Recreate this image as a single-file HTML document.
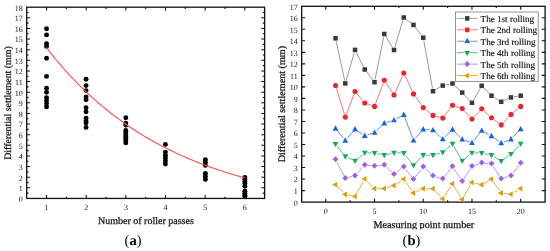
<!DOCTYPE html>
<html><head><meta charset="utf-8"><title>Differential settlement charts</title>
<style>html,body{margin:0;padding:0;background:#fff;width:550px;height:251px;overflow:hidden}svg{display:block;filter:blur(0.3px)}</style>
</head><body>
<svg width="550" height="251" viewBox="0 0 550 251" text-rendering="geometricPrecision"><rect x="0" y="0" width="550" height="251" fill="#fff"/>
<g fill="#000"><circle cx="46.55" cy="28.7" r="2.45"/><circle cx="46.55" cy="34.9" r="2.45"/><circle cx="46.55" cy="43.8" r="2.45"/><circle cx="46.55" cy="46.4" r="2.45"/><circle cx="46.55" cy="58.3" r="2.45"/><circle cx="46.55" cy="76.4" r="2.45"/><circle cx="46.55" cy="88.2" r="2.45"/><circle cx="46.55" cy="92.3" r="2.45"/><circle cx="46.55" cy="97.8" r="2.45"/><circle cx="46.55" cy="100.6" r="2.45"/><circle cx="46.55" cy="103.6" r="2.45"/><circle cx="46.55" cy="106.9" r="2.45"/><circle cx="86.05" cy="79.2" r="2.45"/><circle cx="86.05" cy="85.6" r="2.45"/><circle cx="86.05" cy="90.6" r="2.45"/><circle cx="86.05" cy="97.0" r="2.45"/><circle cx="86.05" cy="99.8" r="2.45"/><circle cx="86.05" cy="107.7" r="2.45"/><circle cx="86.05" cy="111.7" r="2.45"/><circle cx="86.05" cy="118.2" r="2.45"/><circle cx="86.05" cy="121.0" r="2.45"/><circle cx="86.05" cy="123.0" r="2.45"/><circle cx="86.05" cy="127.4" r="2.45"/><circle cx="125.8" cy="117.8" r="2.45"/><circle cx="125.8" cy="123.1" r="2.45"/><circle cx="125.8" cy="125.3" r="2.45"/><circle cx="125.8" cy="130.4" r="2.45"/><circle cx="125.8" cy="132.5" r="2.45"/><circle cx="125.8" cy="134.5" r="2.45"/><circle cx="125.8" cy="136.5" r="2.45"/><circle cx="125.8" cy="138.5" r="2.45"/><circle cx="125.8" cy="140.5" r="2.45"/><circle cx="125.8" cy="142.9" r="2.45"/><circle cx="165.4" cy="144.4" r="2.45"/><circle cx="165.4" cy="152.1" r="2.45"/><circle cx="165.4" cy="155.2" r="2.45"/><circle cx="165.4" cy="158.0" r="2.45"/><circle cx="165.4" cy="161.0" r="2.45"/><circle cx="165.4" cy="164.0" r="2.45"/><circle cx="205.4" cy="159.7" r="2.45"/><circle cx="205.4" cy="162.5" r="2.45"/><circle cx="205.4" cy="165.4" r="2.45"/><circle cx="205.4" cy="173.5" r="2.45"/><circle cx="205.4" cy="176.5" r="2.45"/><circle cx="205.4" cy="179.4" r="2.45"/><circle cx="244.9" cy="177.5" r="2.45"/><circle cx="244.9" cy="179.5" r="2.45"/><circle cx="244.9" cy="181.5" r="2.45"/><circle cx="244.9" cy="183.5" r="2.45"/><circle cx="244.9" cy="186.2" r="2.45"/><circle cx="244.9" cy="191.2" r="2.45"/><circle cx="244.9" cy="193.2" r="2.45"/><circle cx="244.9" cy="195.2" r="2.45"/><circle cx="244.9" cy="196.2" r="2.45"/></g>
<polyline points="46.30,47.45 48.81,50.68 51.32,53.84 53.83,56.94 56.34,59.99 58.85,62.97 61.36,65.89 63.87,68.76 66.38,71.57 68.89,74.32 71.40,77.03 73.91,79.68 76.42,82.27 78.93,84.82 81.44,87.32 83.95,89.76 86.46,92.16 88.97,94.52 91.48,96.82 93.99,99.09 96.50,101.30 99.01,103.48 101.52,105.61 104.03,107.70 106.54,109.75 109.05,111.76 111.56,113.73 114.07,115.66 116.58,117.56 119.09,119.41 121.60,121.23 124.11,123.02 126.62,124.77 129.13,126.48 131.64,128.17 134.15,129.82 136.66,131.43 139.17,133.02 141.68,134.57 144.19,136.10 146.71,137.59 149.22,139.06 151.73,140.49 154.24,141.90 156.75,143.28 159.26,144.64 161.77,145.97 164.28,147.27 166.79,148.54 169.30,149.80 171.81,151.02 174.32,152.23 176.83,153.40 179.34,154.56 181.85,155.69 184.36,156.81 186.87,157.90 189.38,158.96 191.89,160.01 194.40,161.04 196.91,162.05 199.42,163.03 201.93,164.00 204.44,164.95 206.95,165.88 209.46,166.79 211.97,167.69 214.48,168.57 216.99,169.43 219.50,170.27 222.01,171.10 224.52,171.91 227.03,172.70 229.54,173.48 232.05,174.25 234.56,174.99 237.07,175.73 239.58,176.45 242.09,177.15 244.60,177.85" fill="none" stroke="#ff4d4d" stroke-width="1.1"/>
<rect x="26.7" y="7.2" width="237.90" height="191.25" fill="none" stroke="#111" stroke-width="1.3"/>
<path d="M26.70 193.14h1.8M264.60 193.14h-1.8M26.70 187.82h3.4M264.60 187.82h-3.4M26.70 182.51h1.8M264.60 182.51h-1.8M26.70 177.20h3.4M264.60 177.20h-3.4M26.70 171.89h1.8M264.60 171.89h-1.8M26.70 166.57h3.4M264.60 166.57h-3.4M26.70 161.26h1.8M264.60 161.26h-1.8M26.70 155.95h3.4M264.60 155.95h-3.4M26.70 150.64h1.8M264.60 150.64h-1.8M26.70 145.32h3.4M264.60 145.32h-3.4M26.70 140.01h1.8M264.60 140.01h-1.8M26.70 134.70h3.4M264.60 134.70h-3.4M26.70 129.39h1.8M264.60 129.39h-1.8M26.70 124.07h3.4M264.60 124.07h-3.4M26.70 118.76h1.8M264.60 118.76h-1.8M26.70 113.45h3.4M264.60 113.45h-3.4M26.70 108.14h1.8M264.60 108.14h-1.8M26.70 102.82h3.4M264.60 102.82h-3.4M26.70 97.51h1.8M264.60 97.51h-1.8M26.70 92.20h3.4M264.60 92.20h-3.4M26.70 86.89h1.8M264.60 86.89h-1.8M26.70 81.57h3.4M264.60 81.57h-3.4M26.70 76.26h1.8M264.60 76.26h-1.8M26.70 70.95h3.4M264.60 70.95h-3.4M26.70 65.64h1.8M264.60 65.64h-1.8M26.70 60.32h3.4M264.60 60.32h-3.4M26.70 55.01h1.8M264.60 55.01h-1.8M26.70 49.70h3.4M264.60 49.70h-3.4M26.70 44.39h1.8M264.60 44.39h-1.8M26.70 39.07h3.4M264.60 39.07h-3.4M26.70 33.76h1.8M264.60 33.76h-1.8M26.70 28.45h3.4M264.60 28.45h-3.4M26.70 23.14h1.8M264.60 23.14h-1.8M26.70 17.82h3.4M264.60 17.82h-3.4M26.70 12.51h1.8M264.60 12.51h-1.8M46.60 198.45v-3.4M46.60 7.20v3.4M66.42 198.45v-1.8M66.42 7.20v1.8M86.24 198.45v-3.4M86.24 7.20v3.4M106.06 198.45v-1.8M106.06 7.20v1.8M125.88 198.45v-3.4M125.88 7.20v3.4M145.70 198.45v-1.8M145.70 7.20v1.8M165.52 198.45v-3.4M165.52 7.20v3.4M185.34 198.45v-1.8M185.34 7.20v1.8M205.16 198.45v-3.4M205.16 7.20v3.4M224.98 198.45v-1.8M224.98 7.20v1.8M244.80 198.45v-3.4M244.80 7.20v3.4" stroke="#111" stroke-width="1.1" fill="none"/>
<g font-family='"Liberation Serif", "Times New Roman", serif' font-size="8" fill="#1a1a1a"><text x="22.8" y="201.75" text-anchor="end">0</text><text x="22.8" y="191.12" text-anchor="end">1</text><text x="22.8" y="180.50" text-anchor="end">2</text><text x="22.8" y="169.88" text-anchor="end">3</text><text x="22.8" y="159.25" text-anchor="end">4</text><text x="22.8" y="148.62" text-anchor="end">5</text><text x="22.8" y="138.00" text-anchor="end">6</text><text x="22.8" y="127.37" text-anchor="end">7</text><text x="22.8" y="116.75" text-anchor="end">8</text><text x="22.8" y="106.12" text-anchor="end">9</text><text x="22.8" y="95.50" text-anchor="end">10</text><text x="22.8" y="84.87" text-anchor="end">11</text><text x="22.8" y="74.25" text-anchor="end">12</text><text x="22.8" y="63.62" text-anchor="end">13</text><text x="22.8" y="53.00" text-anchor="end">14</text><text x="22.8" y="42.37" text-anchor="end">15</text><text x="22.8" y="31.75" text-anchor="end">16</text><text x="22.8" y="21.12" text-anchor="end">17</text><text x="22.8" y="10.50" text-anchor="end">18</text><text x="46.60" y="209.9" text-anchor="middle">1</text><text x="86.24" y="209.9" text-anchor="middle">2</text><text x="125.88" y="209.9" text-anchor="middle">3</text><text x="165.52" y="209.9" text-anchor="middle">4</text><text x="205.16" y="209.9" text-anchor="middle">5</text><text x="244.80" y="209.9" text-anchor="middle">6</text></g>
<text x="145.9" y="223.9" text-anchor="middle" font-family='"Liberation Serif", "Times New Roman", serif' font-size="10" fill="#111" stroke="#111" stroke-width="0.25">Number of roller passes</text>
<text transform="translate(10.5 103.0) rotate(-90)" text-anchor="middle" textLength="113.6" lengthAdjust="spacingAndGlyphs" font-family='"Liberation Serif", "Times New Roman", serif' font-size="9.8" fill="#111" stroke="#111" stroke-width="0.25">Differential settlement (mm)</text>
<text x="133" y="244.6" text-anchor="middle" font-family='"Liberation Serif", "Times New Roman", serif' font-size="14.5" fill="#000">(<tspan font-weight="bold">a</tspan>)</text>
<rect x="301.7" y="6.3" width="243.40" height="195.80" fill="none" stroke="#111" stroke-width="1.3"/>
<path d="M301.70 190.58h3.4M545.10 190.58h-3.4M301.70 179.06h3.4M545.10 179.06h-3.4M301.70 167.54h3.4M545.10 167.54h-3.4M301.70 156.02h3.4M545.10 156.02h-3.4M301.70 144.50h3.4M545.10 144.50h-3.4M301.70 132.98h3.4M545.10 132.98h-3.4M301.70 121.46h3.4M545.10 121.46h-3.4M301.70 109.94h3.4M545.10 109.94h-3.4M301.70 98.42h3.4M545.10 98.42h-3.4M301.70 86.90h3.4M545.10 86.90h-3.4M301.70 75.38h3.4M545.10 75.38h-3.4M301.70 63.86h3.4M545.10 63.86h-3.4M301.70 52.34h3.4M545.10 52.34h-3.4M301.70 40.82h3.4M545.10 40.82h-3.4M301.70 29.30h3.4M545.10 29.30h-3.4M301.70 17.78h3.4M545.10 17.78h-3.4M325.80 202.10v-3.4M325.80 6.30v3.4M350.16 202.10v-1.8M350.16 6.30v1.8M374.52 202.10v-3.4M374.52 6.30v3.4M398.89 202.10v-1.8M398.89 6.30v1.8M423.25 202.10v-3.4M423.25 6.30v3.4M447.61 202.10v-1.8M447.61 6.30v1.8M471.98 202.10v-3.4M471.98 6.30v3.4M496.34 202.10v-1.8M496.34 6.30v1.8M520.70 202.10v-3.4M520.70 6.30v3.4" stroke="#111" stroke-width="1.1" fill="none"/>
<path d="M336.16 41.13L344.68 80.57M346.10 80.62L354.22 52.68M356.33 52.50L363.49 66.90M366.55 71.80L372.76 79.90M375.10 79.36L383.70 36.84M385.78 36.48L392.51 47.52M394.85 47.22L402.93 20.28M406.07 19.25L411.20 23.15M415.26 27.21L421.49 35.39M423.77 40.55L432.48 88.35M435.51 89.76L440.23 87.04M445.57 84.99L449.65 84.11M454.60 85.48L460.11 90.62M464.23 94.70L469.97 100.70M473.42 100.28L480.28 88.32M483.75 87.87L489.43 93.63M493.92 97.24L498.75 100.26M503.85 100.61L508.31 98.59M513.81 96.90L517.84 96.20" fill="none" stroke="#9a9a9a" stroke-width="1"/>
<rect x="333.30" y="36.05" width="4.5" height="4.5" fill="#383838"/><rect x="343.04" y="81.15" width="4.5" height="4.5" fill="#383838"/><rect x="352.79" y="47.65" width="4.5" height="4.5" fill="#383838"/><rect x="362.53" y="67.25" width="4.5" height="4.5" fill="#383838"/><rect x="372.27" y="79.95" width="4.5" height="4.5" fill="#383838"/><rect x="382.02" y="31.75" width="4.5" height="4.5" fill="#383838"/><rect x="391.76" y="47.75" width="4.5" height="4.5" fill="#383838"/><rect x="401.51" y="15.25" width="4.5" height="4.5" fill="#383838"/><rect x="411.25" y="22.65" width="4.5" height="4.5" fill="#383838"/><rect x="421.00" y="35.45" width="4.5" height="4.5" fill="#383838"/><rect x="430.75" y="88.95" width="4.5" height="4.5" fill="#383838"/><rect x="440.49" y="83.35" width="4.5" height="4.5" fill="#383838"/><rect x="450.24" y="81.25" width="4.5" height="4.5" fill="#383838"/><rect x="459.98" y="90.35" width="4.5" height="4.5" fill="#383838"/><rect x="469.73" y="100.55" width="4.5" height="4.5" fill="#383838"/><rect x="479.47" y="83.55" width="4.5" height="4.5" fill="#383838"/><rect x="489.22" y="93.45" width="4.5" height="4.5" fill="#383838"/><rect x="498.96" y="99.55" width="4.5" height="4.5" fill="#383838"/><rect x="508.70" y="95.15" width="4.5" height="4.5" fill="#383838"/><rect x="518.45" y="93.45" width="4.5" height="4.5" fill="#383838"/>
<path d="M336.40 88.27L344.44 114.33M346.32 114.39L354.00 94.21M356.91 93.71L362.91 100.79M367.52 103.96L371.79 105.44M375.54 103.68L383.26 83.02M385.88 82.71L392.41 92.49M395.20 92.25L402.58 75.75M404.99 75.73L412.27 91.27M415.19 96.26L421.57 105.24M425.51 109.41L430.73 113.59M435.79 116.17L439.95 117.33M444.50 115.79L450.73 107.61M455.23 106.23L459.48 107.67M464.21 110.72L469.99 116.88M473.98 116.90L479.72 110.90M483.85 110.77L489.33 115.83M493.81 119.51L498.87 123.19M503.18 122.77L508.98 116.53M513.20 112.56L518.46 108.24" fill="none" stroke="#f47a7a" stroke-width="1"/>
<circle cx="335.55" cy="85.50" r="2.55" fill="#f0232d"/><circle cx="345.29" cy="117.10" r="2.55" fill="#f0232d"/><circle cx="355.04" cy="91.50" r="2.55" fill="#f0232d"/><circle cx="364.78" cy="103.00" r="2.55" fill="#f0232d"/><circle cx="374.52" cy="106.40" r="2.55" fill="#f0232d"/><circle cx="384.27" cy="80.30" r="2.55" fill="#f0232d"/><circle cx="394.01" cy="94.90" r="2.55" fill="#f0232d"/><circle cx="403.76" cy="73.10" r="2.55" fill="#f0232d"/><circle cx="413.50" cy="93.90" r="2.55" fill="#f0232d"/><circle cx="423.25" cy="107.60" r="2.55" fill="#f0232d"/><circle cx="433.00" cy="115.40" r="2.55" fill="#f0232d"/><circle cx="442.74" cy="118.10" r="2.55" fill="#f0232d"/><circle cx="452.49" cy="105.30" r="2.55" fill="#f0232d"/><circle cx="462.23" cy="108.60" r="2.55" fill="#f0232d"/><circle cx="471.98" cy="119.00" r="2.55" fill="#f0232d"/><circle cx="481.72" cy="108.80" r="2.55" fill="#f0232d"/><circle cx="491.47" cy="117.80" r="2.55" fill="#f0232d"/><circle cx="501.21" cy="124.90" r="2.55" fill="#f0232d"/><circle cx="510.95" cy="114.40" r="2.55" fill="#f0232d"/><circle cx="520.70" cy="106.40" r="2.55" fill="#f0232d"/>
<path d="M337.37 130.75L343.46 138.25M347.19 138.31L353.13 131.49M357.45 130.91L362.37 134.19M367.54 134.90L371.77 133.50M376.62 130.60L382.17 125.30M387.03 122.40L391.26 121.00M396.55 118.69L401.22 116.11M404.79 117.41L412.48 137.69M415.41 138.21L421.35 131.39M426.14 129.47L430.11 129.83M435.13 132.07L440.61 137.13M444.81 137.06L450.42 131.54M454.52 131.57L460.20 137.33M464.96 140.38L469.25 141.92M473.78 140.63L479.92 132.87M484.26 132.01L488.93 134.59M493.82 137.69L498.85 141.31M503.91 141.95L508.25 140.25M512.97 137.11L518.69 131.19" fill="none" stroke="#5c95f0" stroke-width="1"/>
<path d="M335.55 125.30L338.44 130.70L332.65 130.70Z" fill="#1664e6"/><path d="M345.29 137.30L348.19 142.70L342.39 142.70Z" fill="#1664e6"/><path d="M355.04 126.10L357.94 131.50L352.14 131.50Z" fill="#1664e6"/><path d="M364.78 132.60L367.68 138.00L361.88 138.00Z" fill="#1664e6"/><path d="M374.52 129.40L377.42 134.80L371.62 134.80Z" fill="#1664e6"/><path d="M384.27 120.10L387.17 125.50L381.37 125.50Z" fill="#1664e6"/><path d="M394.01 116.90L396.91 122.30L391.12 122.30Z" fill="#1664e6"/><path d="M403.76 111.50L406.66 116.90L400.86 116.90Z" fill="#1664e6"/><path d="M413.50 137.20L416.40 142.60L410.61 142.60Z" fill="#1664e6"/><path d="M423.25 126.00L426.15 131.40L420.35 131.40Z" fill="#1664e6"/><path d="M433.00 126.90L435.89 132.30L430.10 132.30Z" fill="#1664e6"/><path d="M442.74 135.90L445.64 141.30L439.84 141.30Z" fill="#1664e6"/><path d="M452.49 126.30L455.38 131.70L449.59 131.70Z" fill="#1664e6"/><path d="M462.23 136.20L465.13 141.60L459.33 141.60Z" fill="#1664e6"/><path d="M471.98 139.70L474.88 145.10L469.08 145.10Z" fill="#1664e6"/><path d="M481.72 127.40L484.62 132.80L478.82 132.80Z" fill="#1664e6"/><path d="M491.47 132.80L494.37 138.20L488.57 138.20Z" fill="#1664e6"/><path d="M501.21 139.80L504.11 145.20L498.31 145.20Z" fill="#1664e6"/><path d="M510.95 136.00L513.86 141.40L508.06 141.40Z" fill="#1664e6"/><path d="M520.70 125.90L523.60 131.30L517.80 131.30Z" fill="#1664e6"/>
<path d="M337.35 146.37L343.49 154.13M347.93 157.59L352.39 159.61M357.28 158.96L362.54 154.64M367.68 152.86L371.63 152.94M377.35 153.64L381.44 154.56M387.09 154.51L391.20 153.49M396.91 152.86L400.86 152.94M405.56 155.27L411.70 163.03M415.52 163.21L421.24 157.29M426.15 155.20L430.10 155.20M435.77 154.37L439.96 153.13M444.94 150.41L450.29 145.79M453.93 146.42L460.79 158.38M464.47 159.06L469.73 154.74M474.87 152.96L478.82 153.04M484.55 153.71L488.63 154.59M493.95 156.70L498.73 159.60M503.55 159.39L508.61 155.71M512.97 151.91L518.69 145.99" fill="none" stroke="#50c084" stroke-width="1"/>
<path d="M335.55 147.30L338.44 142.00L332.65 142.00Z" fill="#14aa5a"/><path d="M345.29 159.60L348.19 154.30L342.39 154.30Z" fill="#14aa5a"/><path d="M355.04 164.00L357.94 158.70L352.14 158.70Z" fill="#14aa5a"/><path d="M364.78 156.00L367.68 150.70L361.88 150.70Z" fill="#14aa5a"/><path d="M374.52 156.20L377.42 150.90L371.62 150.90Z" fill="#14aa5a"/><path d="M384.27 158.40L387.17 153.10L381.37 153.10Z" fill="#14aa5a"/><path d="M394.01 156.00L396.91 150.70L391.12 150.70Z" fill="#14aa5a"/><path d="M403.76 156.20L406.66 150.90L400.86 150.90Z" fill="#14aa5a"/><path d="M413.50 168.50L416.40 163.20L410.61 163.20Z" fill="#14aa5a"/><path d="M423.25 158.40L426.15 153.10L420.35 153.10Z" fill="#14aa5a"/><path d="M433.00 158.40L435.89 153.10L430.10 153.10Z" fill="#14aa5a"/><path d="M442.74 155.50L445.64 150.20L439.84 150.20Z" fill="#14aa5a"/><path d="M452.49 147.10L455.38 141.80L449.59 141.80Z" fill="#14aa5a"/><path d="M462.23 164.10L465.13 158.80L459.33 158.80Z" fill="#14aa5a"/><path d="M471.98 156.10L474.88 150.80L469.08 150.80Z" fill="#14aa5a"/><path d="M481.72 156.30L484.62 151.00L478.82 151.00Z" fill="#14aa5a"/><path d="M491.47 158.40L494.37 153.10L488.57 153.10Z" fill="#14aa5a"/><path d="M501.21 164.30L504.11 159.00L498.31 159.00Z" fill="#14aa5a"/><path d="M510.95 157.20L513.86 151.90L508.06 151.90Z" fill="#14aa5a"/><path d="M520.70 147.10L523.60 141.80L517.80 141.80Z" fill="#14aa5a"/>
<path d="M336.89 162.17L343.95 175.73M348.09 177.55L352.23 176.45M357.00 173.57L362.82 167.23M367.66 165.40L371.64 165.80M377.41 165.77L381.39 165.33M386.37 167.00L391.92 172.30M396.30 172.52L401.47 168.48M405.53 169.00L411.74 177.10M415.27 177.10L421.48 169.00M425.36 168.69L430.89 173.91M435.77 176.75L439.97 178.05M444.53 176.62L450.69 168.78M454.08 168.92L460.64 178.88M463.81 178.87L470.40 168.73M474.70 165.32L478.99 163.78M484.60 163.13L488.58 163.57M493.05 166.33L499.62 176.37M503.98 177.95L508.18 176.65M512.72 173.50L518.93 165.40" fill="none" stroke="#bd95ee" stroke-width="1"/>
<path d="M335.55 156.30L338.44 159.30L335.55 162.30L332.65 159.30Z" fill="#a05de6"/><path d="M345.29 175.00L348.19 178.00L345.29 181.00L342.39 178.00Z" fill="#a05de6"/><path d="M355.04 172.40L357.94 175.40L355.04 178.40L352.14 175.40Z" fill="#a05de6"/><path d="M364.78 161.80L367.68 164.80L364.78 167.80L361.88 164.80Z" fill="#a05de6"/><path d="M374.52 162.80L377.42 165.80L374.52 168.80L371.62 165.80Z" fill="#a05de6"/><path d="M384.27 161.70L387.17 164.70L384.27 167.70L381.37 164.70Z" fill="#a05de6"/><path d="M394.01 171.00L396.91 174.00L394.01 177.00L391.12 174.00Z" fill="#a05de6"/><path d="M403.76 163.40L406.66 166.40L403.76 169.40L400.86 166.40Z" fill="#a05de6"/><path d="M413.50 176.10L416.40 179.10L413.50 182.10L410.61 179.10Z" fill="#a05de6"/><path d="M423.25 163.40L426.15 166.40L423.25 169.40L420.35 166.40Z" fill="#a05de6"/><path d="M433.00 172.60L435.89 175.60L433.00 178.60L430.10 175.60Z" fill="#a05de6"/><path d="M442.74 175.60L445.64 178.60L442.74 181.60L439.84 178.60Z" fill="#a05de6"/><path d="M452.49 163.20L455.38 166.20L452.49 169.20L449.59 166.20Z" fill="#a05de6"/><path d="M462.23 178.00L465.13 181.00L462.23 184.00L459.33 181.00Z" fill="#a05de6"/><path d="M471.98 163.00L474.88 166.00L471.98 169.00L469.08 166.00Z" fill="#a05de6"/><path d="M481.72 159.50L484.62 162.50L481.72 165.50L478.82 162.50Z" fill="#a05de6"/><path d="M491.47 160.60L494.37 163.60L491.47 166.60L488.57 163.60Z" fill="#a05de6"/><path d="M501.21 175.50L504.11 178.50L501.21 181.50L498.31 178.50Z" fill="#a05de6"/><path d="M510.95 172.50L513.86 175.50L510.95 178.50L508.06 175.50Z" fill="#a05de6"/><path d="M520.70 159.80L523.60 162.80L520.70 165.80L517.80 162.80Z" fill="#a05de6"/>
<path d="M337.61 186.74L343.22 192.26M348.13 194.88L352.19 195.72M356.45 193.77L363.36 181.43M366.84 180.95L372.47 186.55M377.42 188.60L381.37 188.60M387.03 187.72L391.25 186.38M396.44 183.91L401.34 180.69M405.42 181.47L411.84 190.63M416.16 191.83L420.60 189.87M426.15 188.70L430.10 188.70M435.01 190.79L440.73 196.71M444.32 196.37L450.91 186.23M454.03 186.26L460.69 196.84M463.68 196.79L470.53 184.91M474.80 183.07L478.90 184.03M484.23 183.26L488.95 180.54M493.13 181.47L499.55 190.63M504.09 193.35L508.08 193.85M513.47 192.76L518.19 190.04" fill="none" stroke="#e0b04a" stroke-width="1"/>
<path d="M332.14 184.70L337.25 181.80L337.25 187.60Z" fill="#db9c0e"/><path d="M341.89 194.30L346.99 191.40L346.99 197.20Z" fill="#db9c0e"/><path d="M351.63 196.30L356.74 193.40L356.74 199.20Z" fill="#db9c0e"/><path d="M361.38 178.90L366.48 176.00L366.48 181.80Z" fill="#db9c0e"/><path d="M371.12 188.60L376.22 185.70L376.22 191.50Z" fill="#db9c0e"/><path d="M380.87 188.60L385.97 185.70L385.97 191.50Z" fill="#db9c0e"/><path d="M390.61 185.50L395.71 182.60L395.71 188.40Z" fill="#db9c0e"/><path d="M400.36 179.10L405.46 176.20L405.46 182.00Z" fill="#db9c0e"/><path d="M410.10 193.00L415.20 190.10L415.20 195.90Z" fill="#db9c0e"/><path d="M419.85 188.70L424.95 185.80L424.95 191.60Z" fill="#db9c0e"/><path d="M429.59 188.70L434.69 185.80L434.69 191.60Z" fill="#db9c0e"/><path d="M439.34 198.80L444.44 195.90L444.44 201.70Z" fill="#db9c0e"/><path d="M449.08 183.80L454.19 180.90L454.19 186.70Z" fill="#db9c0e"/><path d="M458.83 199.30L463.93 196.40L463.93 202.20Z" fill="#db9c0e"/><path d="M468.57 182.40L473.68 179.50L473.68 185.30Z" fill="#db9c0e"/><path d="M478.32 184.70L483.42 181.80L483.42 187.60Z" fill="#db9c0e"/><path d="M488.06 179.10L493.17 176.20L493.17 182.00Z" fill="#db9c0e"/><path d="M497.81 193.00L502.91 190.10L502.91 195.90Z" fill="#db9c0e"/><path d="M507.55 194.20L512.65 191.30L512.65 197.10Z" fill="#db9c0e"/><path d="M517.30 188.60L522.40 185.70L522.40 191.50Z" fill="#db9c0e"/>
<g font-family='"Liberation Serif", "Times New Roman", serif' font-size="8" fill="#1a1a1a"><text x="297.8" y="205.50" text-anchor="end">0</text><text x="297.8" y="193.98" text-anchor="end">1</text><text x="297.8" y="182.46" text-anchor="end">2</text><text x="297.8" y="170.94" text-anchor="end">3</text><text x="297.8" y="159.42" text-anchor="end">4</text><text x="297.8" y="147.90" text-anchor="end">5</text><text x="297.8" y="136.38" text-anchor="end">6</text><text x="297.8" y="124.86" text-anchor="end">7</text><text x="297.8" y="113.34" text-anchor="end">8</text><text x="297.8" y="101.82" text-anchor="end">9</text><text x="297.8" y="90.30" text-anchor="end">10</text><text x="297.8" y="78.78" text-anchor="end">11</text><text x="297.8" y="67.26" text-anchor="end">12</text><text x="297.8" y="55.74" text-anchor="end">13</text><text x="297.8" y="44.22" text-anchor="end">14</text><text x="297.8" y="32.70" text-anchor="end">15</text><text x="297.8" y="21.18" text-anchor="end">16</text><text x="297.8" y="9.66" text-anchor="end">17</text><text x="325.80" y="213.9" text-anchor="middle">0</text><text x="374.52" y="213.9" text-anchor="middle">5</text><text x="423.25" y="213.9" text-anchor="middle">10</text><text x="471.98" y="213.9" text-anchor="middle">15</text><text x="520.70" y="213.9" text-anchor="middle">20</text></g>
<rect x="455.5" y="12.0" width="82.70" height="69.40" fill="#fff" stroke="#8a8a8a" stroke-width="0.9"/>
<path d="M456.9 18.40H464.30M470.10 18.40H477.6" stroke="#9a9a9a" stroke-width="1"/>
<rect x="464.95" y="16.15" width="4.5" height="4.5" fill="#383838"/>
<text x="480.6" y="21.80" font-family='"Liberation Serif", "Times New Roman", serif' font-size="9.1" fill="#111" stroke="#111" stroke-width="0.15">The 1st rolling</text>
<path d="M456.9 29.83H464.30M470.10 29.83H477.6" stroke="#f47a7a" stroke-width="1"/>
<circle cx="467.20" cy="29.83" r="2.55" fill="#f0232d"/>
<text x="480.6" y="33.23" font-family='"Liberation Serif", "Times New Roman", serif' font-size="9.1" fill="#111" stroke="#111" stroke-width="0.15">The 2nd rolling</text>
<path d="M456.9 41.26H464.30M470.10 41.26H477.6" stroke="#5c95f0" stroke-width="1"/>
<path d="M467.20 37.66L470.10 43.06L464.30 43.06Z" fill="#1664e6"/>
<text x="480.6" y="44.66" font-family='"Liberation Serif", "Times New Roman", serif' font-size="9.1" fill="#111" stroke="#111" stroke-width="0.15">The 3rd rolling</text>
<path d="M456.9 52.69H464.30M470.10 52.69H477.6" stroke="#50c084" stroke-width="1"/>
<path d="M467.20 56.22L470.10 50.92L464.30 50.92Z" fill="#14aa5a"/>
<text x="480.6" y="56.09" font-family='"Liberation Serif", "Times New Roman", serif' font-size="9.1" fill="#111" stroke="#111" stroke-width="0.15">The 4th rolling</text>
<path d="M456.9 64.12H464.30M470.10 64.12H477.6" stroke="#bd95ee" stroke-width="1"/>
<path d="M467.20 61.12L470.10 64.12L467.20 67.12L464.30 64.12Z" fill="#a05de6"/>
<text x="480.6" y="67.52" font-family='"Liberation Serif", "Times New Roman", serif' font-size="9.1" fill="#111" stroke="#111" stroke-width="0.15">The 5th rolling</text>
<path d="M456.9 75.55H464.30M470.10 75.55H477.6" stroke="#e0b04a" stroke-width="1"/>
<path d="M463.80 75.55L468.90 72.65L468.90 78.45Z" fill="#db9c0e"/>
<text x="480.6" y="78.95" font-family='"Liberation Serif", "Times New Roman", serif' font-size="9.1" fill="#111" stroke="#111" stroke-width="0.15">The 6th rolling</text>
<defs><clipPath id="cb"><rect x="275" y="0" width="275" height="229.2"/></clipPath></defs>
<text clip-path="url(#cb)" x="423.8" y="228.3" text-anchor="middle" font-family='"Liberation Serif", "Times New Roman", serif' font-size="10.2" fill="#111" stroke="#111" stroke-width="0.25">Measuring point number</text>
<text transform="translate(284.7 104.1) rotate(-90)" text-anchor="middle" textLength="116.5" lengthAdjust="spacingAndGlyphs" font-family='"Liberation Serif", "Times New Roman", serif' font-size="9.8" fill="#111" stroke="#111" stroke-width="0.25">Differential settlement (mm)</text>
<text x="411.5" y="244.6" text-anchor="middle" font-family='"Liberation Serif", "Times New Roman", serif' font-size="14.5" fill="#000">(<tspan font-weight="bold">b</tspan>)</text></svg>
</body></html>
